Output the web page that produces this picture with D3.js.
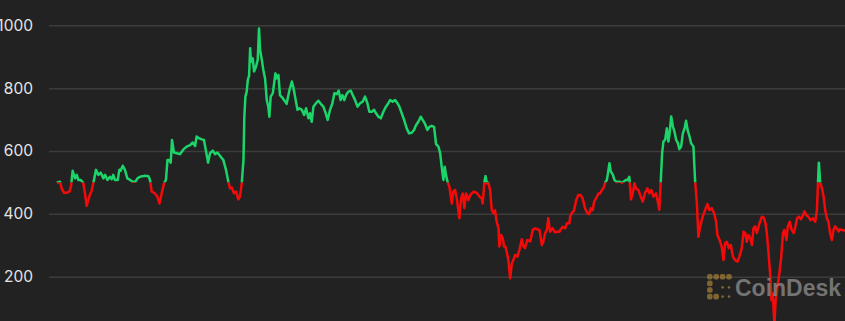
<html>
<meta charset="utf-8">
<style>
body { margin: 0; background: #222222; }
.grid line { stroke: #3c3c3c; stroke-width: 1.5px; }
.grid text { fill: #e4e4e4; font-family: Inter, "Liberation Sans", sans-serif; font-size: 15.5px; }
.price { fill: none; stroke-width: 2.5px; stroke-linejoin: round; }
</style>
<body>
<script src="https://d3js.org/d3.v7.min.js"></script>
<script>

// day offsets and prices
var days = [0, 1.5, 2.3, 3.4, 4.6, 5.9, 6.6, 7.4, 8.5, 9.3, 10.0, 11.1, 12.3, 13.1, 13.9, 15.1, 16.2, 17.0, 18.2, 19.3,
  20.4, 21.6, 22.4, 23.5, 24.7, 25.5, 26.2, 27.0, 28.3, 29.0, 29.6, 30.6, 31.6, 32.7, 34.0, 35.2, 36.4, 37.4, 38.6, 39.8,
  40.9, 42.5, 43.2, 44.0, 45.5, 46.6, 47.6, 48.6, 49.7, 50.6, 51.3, 52.2, 52.8, 53.4, 54.3, 55.6,
  57.1, 58.7, 60.2, 61.8, 63.0, 64.1, 64.8, 66.1, 67.2, 68.2, 69.2, 70.1, 71.0, 72.3, 73.3, 74.4, 75.7, 77.2, 78.4, 79.5,
  80.3, 81.1, 82.1, 83.1, 84.1, 84.9, 85.7, 86.5, 86.9, 87.4, 88.0, 88.5, 89.1, 89.6, 90.0, 90.8, 91.4, 92.3, 93.1, 93.7,
  94.2, 95.0, 95.7, 96.5, 97.3, 98.0, 98.5, 99.1, 100.1, 100.8, 101.3, 101.9, 102.7, 103.4, 104.7, 105.8, 106.5, 107.8,
  108.9, 109.6, 110.4, 111.5, 112.4, 113.5, 114.6, 115.5, 116.6,
  117.3, 118.1, 118.9, 120.1, 121.2, 122.3, 123.5, 124.6, 125.5, 126.6, 127.7, 128.6, 129.7, 130.6, 131.5, 132.3, 133.2,
  134.0, 135.1, 136.2, 137.1, 138.2, 139.3, 140.5, 141.7, 142.8, 143.9, 144.8, 145.9, 147.0, 147.9, 149.0, 150.1, 151.3,
  152.5, 153.6, 154.4, 155.6, 156.7, 157.8, 158.7, 159.8, 160.9, 162.1, 163.2, 164.4, 165.5, 166.4, 167.5, 168.6, 169.5,
  170.6, 171.7, 172.6, 173.7, 174.8, 175.7, 176.8,
  177.6, 178.3, 179.1, 179.7, 180.3, 181.0, 181.9, 183.0, 183.7, 184.5, 185.3, 186.5, 187.3, 188.1, 188.8, 189.6, 190.7,
  191.5, 192.2, 193.3, 194.5, 195.8, 196.9, 197.3, 198.1, 198.6, 199.2, 199.9, 200.7, 201.5, 202.3, 203.0, 203.8, 204.6,
  205.0, 205.8, 206.6, 207.2, 207.8, 208.4, 209.2, 210.0, 210.8, 211.5, 212.3, 213.4, 214.3, 215.4, 216.2, 216.9, 218.0,
  219.3, 220.5, 221.6, 222.6, 223.6, 224.7, 225.4, 226.2, 227.0, 227.7, 228.5, 229.7, 230.8, 231.9, 232.8, 233.5, 234.4,
  235.5, 236.3, 237.5,
  237.8, 238.5, 239.6, 240.6, 241.6, 242.7, 243.6, 244.7, 245.8, 246.6, 247.4, 248.3, 248.9, 249.8, 250.9, 251.7, 252.5,
  253.2, 254.0, 254.8, 255.2, 256.0, 256.6, 257.6, 258.3, 259.4, 260.6, 261.7, 262.8, 263.7, 264.5, 265.2, 266.0, 266.8,
  267.6, 268.3, 269.4, 270.5, 271.4, 272.5, 273.6, 274.5, 275.4, 276.4, 277.6, 278.7, 279.1, 279.8, 280.4, 281.0, 281.8,
  282.6, 283.3, 283.8, 284.6, 285.4, 286.1, 286.9, 287.7, 288.4, 289.2, 290.0, 290.8, 291.5, 292.2, 293.1, 293.8, 294.9,
  295.7, 296.5, 297.2,
  298.0, 299.2, 300.3, 301.4, 302.3, 303.4, 304.5, 305.4, 306.0, 307.0, 308.0, 308.8, 309.6, 310.4, 311.3, 312.2, 313.2,
  314.2, 315.3, 316.2, 317.3, 318.1, 318.9, 319.6, 320.4, 321.2, 322.0, 322.7, 323.5, 324.3, 325.5, 326.6, 327.4, 328.3,
  328.9, 329.7, 330.5, 331.0, 331.6, 332.4, 333.0, 333.6, 334.6, 335.5, 336.4, 337.0, 338.0, 338.6, 339.5, 340.4, 341.4,
  342.1, 342.9, 343.8, 344.7, 345.7, 346.3, 347.2, 348.1, 349.1, 350.2, 351.3, 352.1, 352.6, 353.0, 353.6, 354.4, 355.2,
  355.9, 356.7, 357.4, 358.2, 359.0, 359.8, 360.5, 361.3, 362.1, 362.8, 363.6, 364.7, 365.1];

var prices = [499, 502, 481, 467, 467, 471, 486, 537, 513, 524, 508, 508, 499, 465, 425, 455, 474, 499, 540, 524,
  531, 513, 524, 508, 518, 510, 524, 508, 508, 540, 537, 553, 540, 513, 508, 502, 502, 513, 518, 520,
  521, 520, 508, 471, 465, 455, 433, 465, 497, 508, 571, 571, 563, 635, 595, 593,
  590, 605, 614, 619, 627, 616, 646, 640, 637, 635, 598, 563, 593, 601, 590, 595, 584, 571, 540, 502,
  481, 484, 465, 471, 446, 455, 497, 571, 709, 773, 789, 826, 839, 927, 884, 895, 853, 868, 890, 990,
  922, 890, 858, 831, 762, 741, 709, 773, 784, 821, 847, 831, 842, 778, 768, 757, 750, 794,
  821, 803, 773, 731, 736, 731, 715, 736, 704,
  720, 693, 741, 752, 760, 750, 741, 720, 699, 731, 752, 784, 781, 792, 762, 778, 762,
  778, 789, 792, 778, 762, 741, 752, 757, 773, 752, 725, 725, 731, 720, 709, 704, 725,
  741, 752, 762, 757, 762, 752, 741, 720, 699, 672, 656, 658, 667, 682, 693, 709, 699,
  686, 667, 677, 680, 677, 622, 614,
  593, 550, 508, 550, 524, 502, 486, 433, 471, 476, 449, 386, 449, 465, 418, 465, 444,
  460, 465, 471, 467, 455, 449, 433, 502, 520, 497, 499, 477, 413, 402, 411, 375, 354,
  296, 333, 322, 296, 296, 280, 253, 195, 242, 253, 269, 264, 285, 319, 296, 291, 317,
  312, 349, 354, 351, 349, 301, 311, 338, 349, 386, 343, 354, 341, 343, 343, 351, 359,
  354, 370, 370,
  391, 402, 410, 444, 460, 460, 449, 418, 402, 399, 418, 412, 439, 449, 465, 465, 476,
  481, 499, 508, 524, 561, 535, 524, 508, 501, 503, 499, 504, 508, 508, 518, 446, 465,
  497, 481, 476, 455, 439, 467, 481, 465, 476, 455, 465, 429, 413, 508, 593, 630, 636,
  672, 630, 652, 710, 678, 662, 636, 625, 606, 614, 656, 672, 696, 667, 646, 625, 614,
  502, 433, 327,
  359, 391, 412, 431, 412, 418, 402, 375, 333, 317, 296, 253, 307, 311, 291, 301, 264,
  253, 248, 264, 291, 343, 339, 311, 333, 323, 301, 354, 360, 339, 370, 391, 389, 370,
  339, 274, 200, 126, 147, 51, 126, 158, 205, 258, 339, 349, 317, 359, 375, 349, 339,
  359, 386, 391, 383, 396, 408, 396, 391, 380, 386, 375, 412, 502, 563, 500, 482, 455,
  413, 386, 376, 339, 317, 349, 360, 354, 344, 351, 349, 347, 349];

var yTicks = [200, 400, 600, 800, 1000];
var baseline = 500;

var width = 845, height = 321;

var data = days.map(function(d, i) { return {day: d, price: prices[i]}; });

var x = d3.scaleLinear().domain([0, d3.max(days)]).range([56.7, 845]);
var y = d3.scaleLinear().domain([200, 1000]).range([276.7, 25.3]);

var svg = d3.select("body").append("svg")
    .attr("width", width)
    .attr("height", height)
    .style("display", "block");

svg.append("rect").attr("width", width).attr("height", height).attr("fill", "#222222");

// gridlines + labels
var grid = svg.append("g")
    .attr("class", "grid")
    .attr("transform", "translate(49,0)")
    .call(d3.axisLeft(y).tickValues(yTicks).tickSize(-(width - 49)).tickPadding(16).tickFormat(d3.format("d")));
grid.select(".domain").remove();

// clip above / below the baseline
var yb = y(baseline);
var defs = svg.append("defs");
defs.append("clipPath").attr("id", "above")
  .append("rect").attr("x", 0).attr("y", 0).attr("width", width).attr("height", yb);
defs.append("clipPath").attr("id", "below")
  .append("rect").attr("x", 0).attr("y", yb).attr("width", width).attr("height", height - yb);

var line = d3.line()
    .x(function(d) { return x(d.day); })
    .y(function(d) { return y(d.price); });

svg.append("path").datum(data)
    .attr("class", "price")
    .attr("clip-path", "url(#above)")
    .attr("stroke", "#1bd46a")
    .attr("d", line);

svg.append("path").datum(data)
    .attr("class", "price")
    .attr("clip-path", "url(#below)")
    .attr("stroke", "#f50a0a")
    .attr("d", line);

// CoinDesk watermark
var logo = svg.append("g").attr("transform", "translate(707,274)").attr("opacity", 0.75);
var big = [[0, 0], [1, 0], [2, 0], [3, 0], [0, 1], [0, 2], [0, 3], [1, 3]];
var small = [[2, 1.6], [3, 1.6], [2, 3], [3, 3]];
logo.selectAll("rect.big").data(big).enter().append("rect")
    .attr("x", function(d) { return d[0] * 6.4; })
    .attr("y", function(d) { return d[1] * 6.6; })
    .attr("width", 5.6).attr("height", 5.6).attr("rx", 2)
    .attr("fill", "#9c7a35");
logo.selectAll("circle").data(small).enter().append("circle")
    .attr("cx", function(d) { return d[0] * 6.4 + 2.8; })
    .attr("cy", function(d) { return d[1] * 6.6 + 2.8; })
    .attr("r", 1.3)
    .attr("fill", "#9c7a35");
logo.append("text")
    .attr("x", 28).attr("y", 22)
    .attr("font-family", "'Liberation Sans', Arial, sans-serif")
    .attr("font-weight", "bold")
    .attr("font-size", 23)
    .attr("fill", "#8e8e8e")
    .text("CoinDesk");

</script>
</body>
</html>
